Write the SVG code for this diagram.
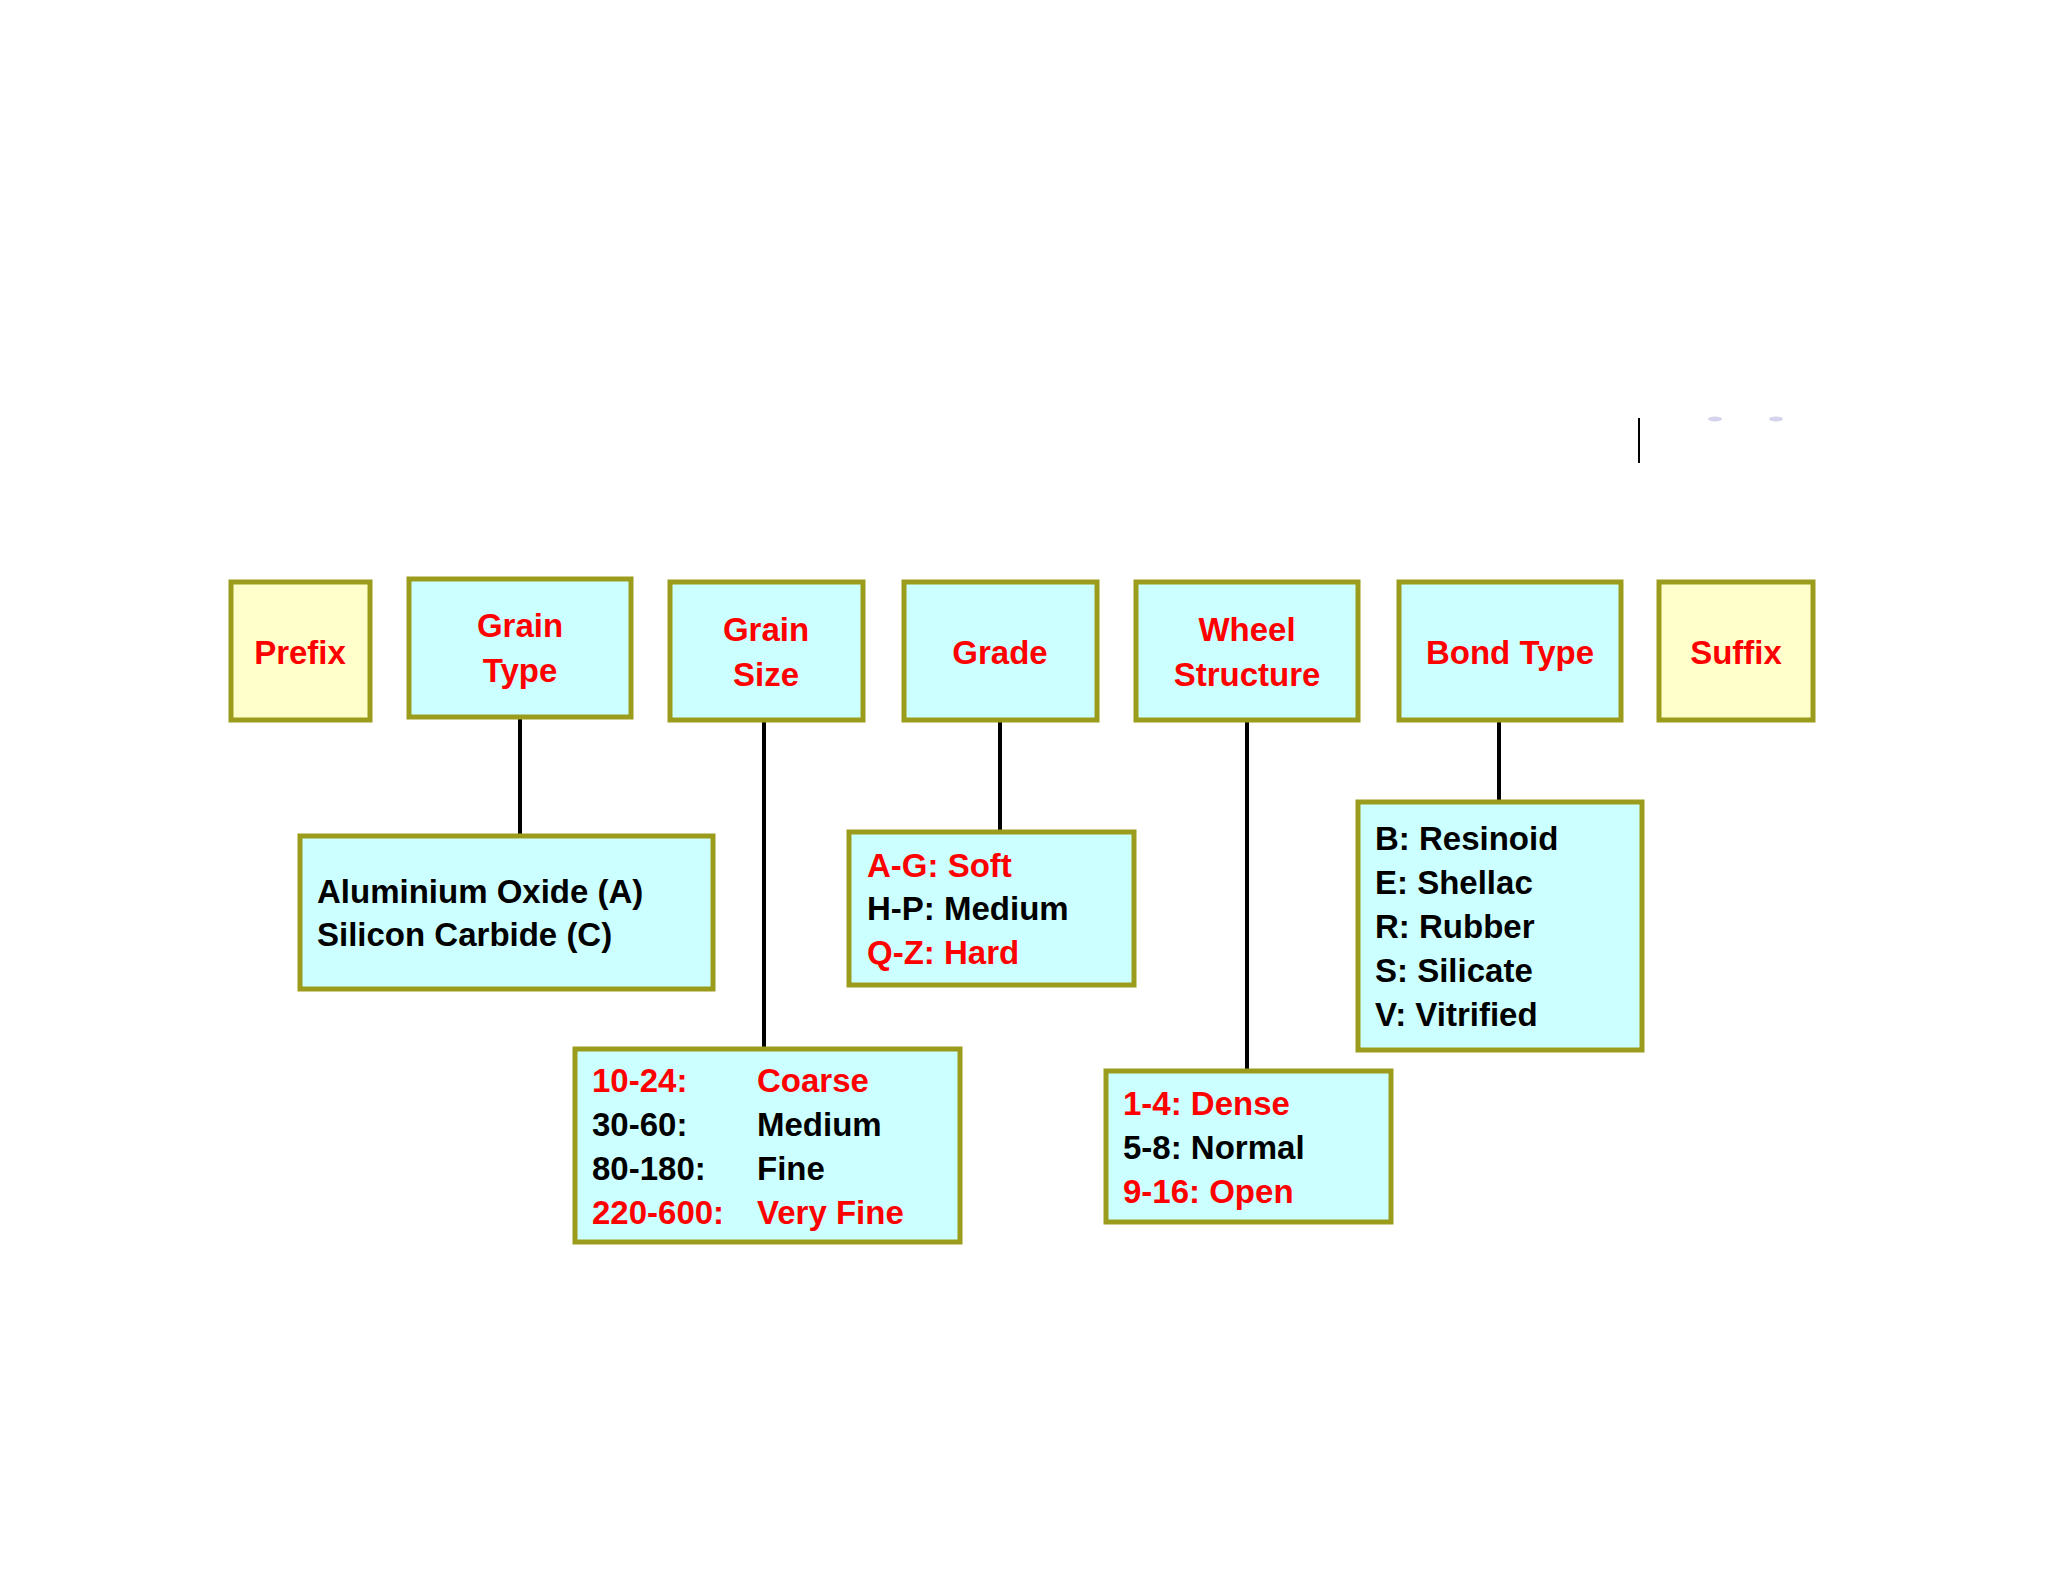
<svg xmlns="http://www.w3.org/2000/svg" width="2048" height="1582" viewBox="0 0 2048 1582">
<style>
.b{stroke:#9c9c1c;stroke-width:5}
.c{fill:#ccffff}
.y{fill:#ffffcc}
text{font-family:"Liberation Sans",Arial,sans-serif;font-weight:bold;font-size:33px;fill:#000}
.r{fill:#ff0000}
.m{text-anchor:middle}
.l{stroke:#000;stroke-width:4}
</style>
<rect width="2048" height="1582" fill="#fff"/>
<line x1="1639" y1="418" x2="1639" y2="463" stroke="#000" stroke-width="2"/>
<ellipse cx="1715" cy="419" rx="7" ry="2.5" fill="#d4d4ee"/>
<ellipse cx="1776" cy="419" rx="7" ry="2.5" fill="#d4d4ee"/>
<g id="connectors">
<line class="l" x1="520" y1="717" x2="520" y2="836"/>
<line class="l" x1="764" y1="720" x2="764" y2="1049" stroke-width="6"/>
<line class="l" x1="1000" y1="720" x2="1000" y2="832"/>
<line class="l" x1="1247" y1="720" x2="1247" y2="1071"/>
<line class="l" x1="1499" y1="720" x2="1499" y2="802"/>
</g>
<g id="prefix"><rect class="b y" x="231" y="582" width="139" height="138"/><text class="r m" x="300" y="664">Prefix</text></g>
<g id="grainType"><rect class="b c" x="409" y="579" width="222" height="138"/><text class="r m" x="520" y="637">Grain</text><text class="r m" x="520" y="682">Type</text></g>
<g id="grainSize"><rect class="b c" x="670" y="582" width="193" height="138"/><text class="r m" x="766" y="641">Grain</text><text class="r m" x="766" y="686">Size</text></g>
<g id="grade"><rect class="b c" x="904" y="582" width="193" height="138"/><text class="r m" x="1000" y="664">Grade</text></g>
<g id="wheelStructure"><rect class="b c" x="1136" y="582" width="222" height="138"/><text class="r m" x="1247" y="641">Wheel</text><text class="r m" x="1247" y="686">Structure</text></g>
<g id="bondType"><rect class="b c" x="1399" y="582" width="222" height="138"/><text class="r m" x="1510" y="664">Bond Type</text></g>
<g id="suffix"><rect class="b y" x="1659" y="582" width="154" height="138"/><text class="r m" x="1736" y="664">Suffix</text></g>
<g id="grainTypeDetail"><rect class="b c" x="300" y="836" width="413" height="153"/><text x="317" y="903">Aluminium Oxide (A)</text><text x="317" y="946">Silicon Carbide (C)</text></g>
<g id="gradeDetail"><rect class="b c" x="849" y="832" width="285" height="153"/><text class="r" x="867" y="877">A-G: Soft</text><text x="867" y="920">H-P: Medium</text><text class="r" x="867" y="964">Q-Z: Hard</text></g>
<g id="bondDetail"><rect class="b c" x="1358" y="802" width="284" height="248"/><text x="1375" y="850">B: Resinoid</text><text x="1375" y="894">E: Shellac</text><text x="1375" y="938">R: Rubber</text><text x="1375" y="982">S: Silicate</text><text x="1375" y="1026">V: Vitrified</text></g>
<g id="grainSizeDetail"><rect class="b c" x="575" y="1049" width="385" height="193"/>
<text class="r" x="592" y="1092">10-24:</text><text class="r" x="757" y="1092">Coarse</text>
<text x="592" y="1136">30-60:</text><text x="757" y="1136">Medium</text>
<text x="592" y="1180">80-180:</text><text x="757" y="1180">Fine</text>
<text class="r" x="592" y="1224">220-600:</text><text class="r" x="757" y="1224">Very Fine</text></g>
<g id="wheelDetail"><rect class="b c" x="1106" y="1071" width="285" height="151"/><text class="r" x="1123" y="1115">1-4: Dense</text><text x="1123" y="1159">5-8: Normal</text><text class="r" x="1123" y="1203">9-16: Open</text></g>
</svg>
